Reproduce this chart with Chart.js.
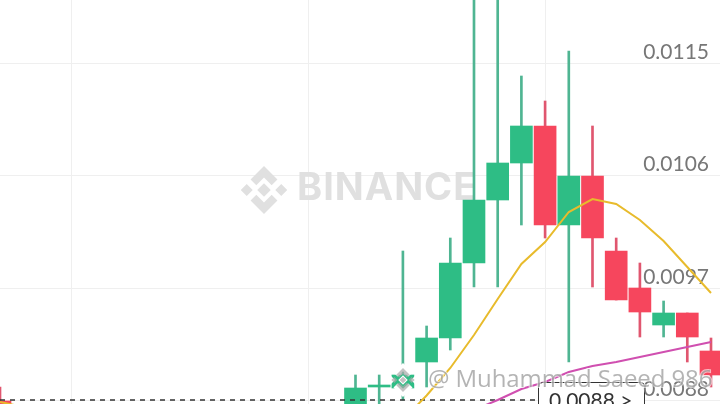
<!DOCTYPE html>
<html>
<head>
<meta charset="utf-8">
<script src="https://cdn.jsdelivr.net/npm/chart.js@4"></script>
<style>
  html, body { margin: 0; padding: 0; background: #fff; overflow: hidden; }
  canvas { display: block; }
</style>
</head>
<body>
<canvas id="priceChart" width="720" height="404"></canvas>
<script>
const candleIdx = [0, 15, 16, 17, 18, 19, 20, 21, 22, 23, 24, 25, 26, 27, 28, 29, 30];
const opens  = [0.008796, 0.008708, 0.008908, 0.0089, 0.009108, 0.0093, 0.0099, 0.010404, 0.0107, 0.010996, 0.010204, 0.010596, 0.009996, 0.0097, 0.009404, 0.0095, 0.009196];
const closes = [0.008708, 0.0089, 0.008924, 0.009004, 0.0093, 0.0099, 0.010404, 0.0107, 0.010996, 0.010204, 0.010596, 0.0101, 0.009604, 0.009508, 0.0095, 0.009308, 0.009004];
const highs  = [0.008908, 0.009004, 0.009004, 0.009996, 0.009396, 0.0101, 0.0125, 0.0125, 0.011396, 0.011196, 0.011596, 0.010996, 0.0101, 0.0099, 0.009596, 0.0095, 0.0093];
const lows   = [0.0087, 0.0087, 0.0087, 0.008804, 0.008908, 0.009204, 0.009708, 0.009708, 0.010204, 0.0101, 0.009108, 0.009708, 0.009604, 0.009308, 0.009308, 0.009108, 0.008908];

const ma7Idx = [0, 1, 17, 18, 19, 20, 21, 22, 23, 24, 25, 26, 27, 28, 29, 30];
const ma7 = [0.008788, 0.008748, 0.008644, 0.00884, 0.00906, 0.009324, 0.009612, 0.009892, 0.010068, 0.010308, 0.010412, 0.010372, 0.010244, 0.010076, 0.009868, 0.00966];
const ma25Idx = [20, 21, 22, 23, 24, 25, 26, 27, 28, 29, 30];
const ma25 = [0.008724, 0.008804, 0.008892, 0.008948, 0.009028, 0.009076, 0.009108, 0.009148, 0.009188, 0.009228, 0.009268];

const priceTicks = [0.0115, 0.0106, 0.0097, 0.0088];
const timeTicks = [3, 13, 23];
const lastPrice = 0.008804;
const lastPriceIdx = [0, 22.8];

const green = '#2ebd85', red = '#f6465d';
const greenWick = '#4fb592', redWick = '#e0566f';
const isUp = candleIdx.map((_, i) => closes[i] >= opens[i]);

function diamond(c, x, y, r) {
  c.beginPath();
  c.moveTo(x, y - r); c.lineTo(x + r, y); c.lineTo(x, y + r); c.lineTo(x - r, y);
  c.closePath();
  c.fill();
}

// binance logo: centre diamond, four small ones round it
function logo(c, x, y, r, color) {
  c.fillStyle = color;
  diamond(c, x, y, r * 0.28);
  diamond(c, x - r * 0.72, y, r * 0.25);
  diamond(c, x + r * 0.72, y, r * 0.25);
  c.beginPath();
  c.moveTo(x, y - r); c.lineTo(x + r * 0.56, y - r * 0.44); c.lineTo(x + r * 0.32, y - r * 0.2);
  c.lineTo(x, y - r * 0.52); c.lineTo(x - r * 0.32, y - r * 0.2); c.lineTo(x - r * 0.56, y - r * 0.44);
  c.closePath(); c.fill();
  c.beginPath();
  c.moveTo(x, y + r); c.lineTo(x + r * 0.56, y + r * 0.44); c.lineTo(x + r * 0.32, y + r * 0.2);
  c.lineTo(x, y + r * 0.52); c.lineTo(x - r * 0.32, y + r * 0.2); c.lineTo(x - r * 0.56, y + r * 0.44);
  c.closePath(); c.fill();
}

const overlays = {
  id: 'overlays',
  beforeDatasetsDraw(chart) {
    const c = chart.ctx;
    c.save();
    logo(c, 264, 190, 24, '#e0e0e0');
    c.fillStyle = '#e0e0e0';
    c.font = 'bold 38px Inter, "Open Sans", sans-serif';
    c.letterSpacing = '1px';
    c.textBaseline = 'middle';
    c.textAlign = 'left';
    c.fillText('BINANCE', 297, 189);
    c.restore();
  },
  afterDraw(chart) {
    const c = chart.ctx;
    c.save();
    // last price box
    c.fillStyle = '#fff';
    c.strokeStyle = '#333';
    c.lineWidth = 1;
    c.beginPath();
    c.roundRect(538.5, 382.5, 106, 30, 4);
    c.fill();
    c.stroke();
    c.fillStyle = '#333';
    c.font = '21px Lato, sans-serif';
    c.textBaseline = 'middle';
    c.textAlign = 'left';
    c.fillText('0.0088 >', 549, 401);

    // tick label sits above the box edge
    c.fillStyle = '#777';
    c.textAlign = 'right';
    c.fillText('0.0088', 709, 389);

    // square watermark
    logo(c, 403, 380, 17, '#fff');
    logo(c, 403, 380, 12, 'rgba(170,170,170,0.7)');
    c.font = '24px "Open Sans", sans-serif';
    c.letterSpacing = '-0.1px';
    c.textAlign = 'left';
    c.lineWidth = 2;
    c.strokeStyle = 'rgba(255,255,255,0.6)';
    c.strokeText('@ Muhammad Saeed 986', 428, 380);
    c.fillStyle = 'rgba(140,140,140,0.65)';
    c.fillText('@ Muhammad Saeed 986', 428, 380);
    c.restore();
  }
};

const ctx = document.getElementById('priceChart').getContext('2d');
ctx.letterSpacing = '0.4px';

new Chart(ctx, {
  type: 'bar',
  plugins: [overlays],
  data: {
    datasets: [
      {
        type: 'line',
        data: ma7Idx.map((x, i) => ({ x, y: ma7[i] })).filter(p => p.x < 2),
        borderColor: '#e8bb2c', borderWidth: 2, pointRadius: 0, tension: 0
      },
      {
        type: 'line',
        data: ma7Idx.map((x, i) => ({ x, y: ma7[i] })).filter(p => p.x > 2),
        borderColor: '#e8bb2c', borderWidth: 2, pointRadius: 0, tension: 0
      },
      {
        type: 'line',
        data: ma25Idx.map((x, i) => ({ x, y: ma25[i] })),
        borderColor: '#d04fb0', borderWidth: 2, pointRadius: 0, tension: 0
      },
      {
        type: 'line',
        data: lastPriceIdx.map(x => ({ x, y: lastPrice })),
        borderColor: '#333', borderWidth: 1.5, borderDash: [5, 5], pointRadius: 0
      },
      {
        data: candleIdx.map((x, i) => ({ x, y: [opens[i], closes[i]] })),
        backgroundColor: isUp.map(u => u ? green : red),
        barThickness: 22, grouped: false, borderSkipped: false
      },
      {
        data: candleIdx.map((x, i) => ({ x, y: [lows[i], highs[i]] })),
        backgroundColor: isUp.map(u => u ? greenWick : redWick),
        barThickness: 2, grouped: false, borderSkipped: false
      }
    ]
  },
  options: {
    responsive: false,
    animation: false,
    layout: { padding: 0 },
    plugins: { legend: { display: false }, tooltip: { enabled: false } },
    scales: {
      x: {
        type: 'linear',
        offset: false,
        min: 0,
        max: 30.38,
        afterBuildTicks: axis => { axis.ticks = timeTicks.map(value => ({ value })); },
        afterFit: axis => { axis.paddingLeft = 0; axis.paddingRight = 0; },
        ticks: { display: false },
        border: { display: false },
        grid: { color: '#efefef', drawTicks: false, offset: false }
      },
      y: {
        position: 'right',
        min: 0.008772,
        max: 0.012004,
        afterBuildTicks: axis => { axis.ticks = priceTicks.map(value => ({ value })); },
        afterFit: axis => { axis.paddingTop = 0; axis.paddingBottom = 0; axis.width = 0; },
        ticks: {
          mirror: true,
          padding: -11,
          labelOffset: -11,
          color: '#777',
          font: { family: 'Lato, sans-serif', size: 21 },
          callback: v => v === 0.0088 ? '' : v.toFixed(4)
        },
        border: { display: false },
        grid: { color: '#efefef', drawTicks: false }
      }
    }
  }
});
</script>
</body>
</html>
